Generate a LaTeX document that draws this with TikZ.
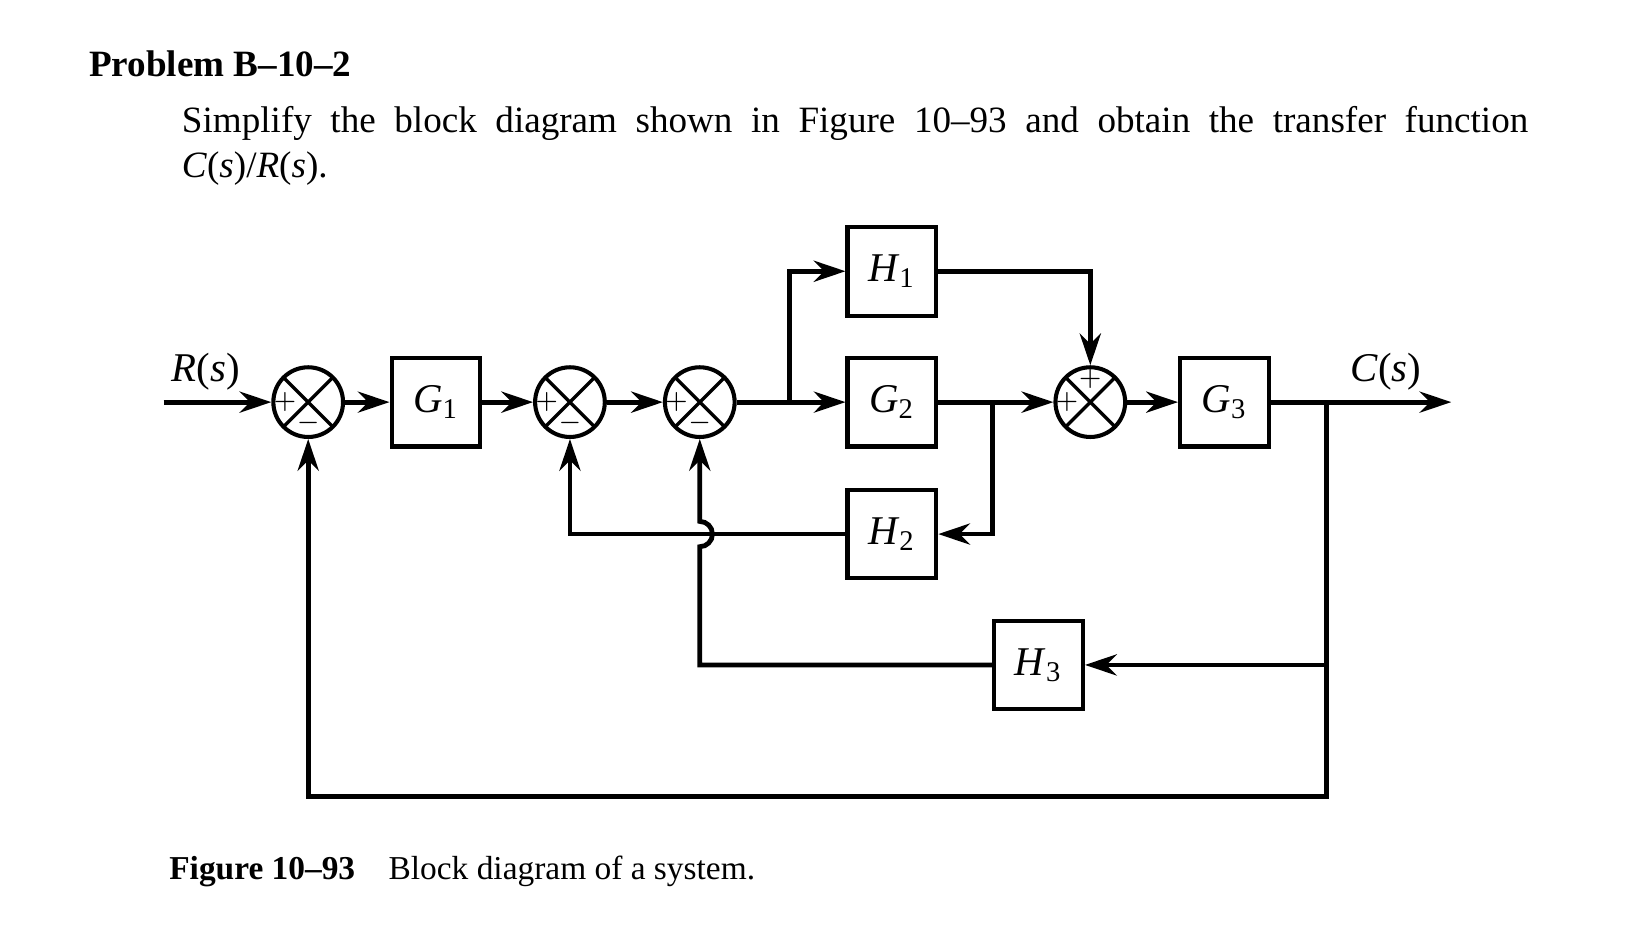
\documentclass[tikz,border=0pt]{standalone}
\usepackage{fontspec}
\setmainfont{Liberation Serif}
\usetikzlibrary{positioning, calc, arrows.meta}
\newcommand{\var}[2]{\textit{#1}\textsubscript{#2}}

\begin{document}
\begin{tikzpicture}[x={(0.01cm,0)}, y={(0,-0.01cm)},
    block/.style={draw, line width=1.1pt, minimum size=0.84cm, inner sep=0pt,
      font=\fontsize{11}{13}\selectfont},
    summer/.style={draw, circle, line width=1.1pt, minimum size=0.66cm, inner sep=0pt,
      path picture={\draw[line width=0.9pt] (path picture bounding box.south west) -- (path picture bounding box.north east)
        (path picture bounding box.north west) -- (path picture bounding box.south east);}},
    sign/.style={font=\fontsize{7}{8}\selectfont, inner sep=0pt},
    wire/.style={line width=1.3pt},
    arr/.style={wire, -{Stealth[length=3mm, width=2mm]}}]
  \useasboundingbox (0,0) rectangle (1550,898);

% TEXT

  \node[anchor=west, font=\fontsize{10}{12}\selectfont\bfseries] (title) at (72,60) {Problem B–10–2};
  \node[anchor=west, font=\fontsize{10}{12}\selectfont] (task1) at (160,117)
    {Simplify\ \ the\ \ block\ \ diagram\ \ shown\ \ in\ \ Figure\ \ 10–93\ \ and\ \ obtain\ \ the\ \ transfer\ \ function};
  \node[anchor=west, font=\fontsize{10}{12}\selectfont] (task2) at (160,160) {\textit{C}(\textit{s})/\textit{R}(\textit{s}).};
  \node[anchor=west, font=\fontsize{9}{11}\selectfont] (caption) at (148,826)
    {\textbf{Figure 10–93}\quad Block diagram of a system.};

% BLOCKS

  \node[summer] (s1) at (292,381) {};
  \node[summer] (s2) at (540,381) {};
  \node[summer] (s3) at (663,381) {};
  \node[summer] (s4) at (1033,381) {};
  \node[block] (g1) at (413,381) {\var{G}{1}};
  \node[block] (g2) at (845,381) {\var{G}{2}};
  \node[block] (h1) at (845,257) {\var{H}{1}};
  \node[block] (h2) at (845,506) {\var{H}{2}};
  \node[block] (h3) at (984,630) {\var{H}{3}};
  \node[block] (g3) at (1160,381) {\var{G}{3}};

  \foreach \s in {s1, s2, s3, s4} {
    \node[sign] at ($(\s)+(-22,0)$) {$+$};
  }
  \foreach \s in {s1, s2, s3} {
    \node[sign] at ($(\s)+(0,20)$) {$-$};
  }
  \node[sign] at ($(s4)+(0,-22)$) {$+$};

  \coordinate (rin) at (155,381);
  \coordinate (cout) at (1375,381);
  \coordinate (split1) at (748,381);
  \coordinate (split2) at (940,381);
  \coordinate (split3) at (1257,381);
  \node[font=\fontsize{11}{13}\selectfont] (rlabel) at (195,352) {\textit{R}(\textit{s})};
  \node[font=\fontsize{11}{13}\selectfont] (clabel) at (1313,352) {\textit{C}(\textit{s})};

% FORWARD PATH

  \draw[arr] (rin) -- (s1);
  \draw[arr] (s1) -- (g1);
  \draw[arr] (g1) -- (s2);
  \draw[arr] (s2) -- (s3);
  \draw[arr] (s3) -- (g2);
  \draw[arr] (g2) -- (s4);
  \draw[arr] (s4) -- (g3);
  \draw[arr] (g3) -- (cout);
  \draw[arr] (split1) |- (h1);
  \draw[arr] (h1) -| (s4);

% FEEDBACK

  \draw[arr] (split2) |- (h2);
  \draw[arr] (h2) -| (s2);
  \draw[arr] (split3) |- (h3);
  \draw[arr] (h3.west) -- (663,630) -- (663,518) arc[start angle=90, end angle=-90, radius=12] -- (s3);
  \draw[arr] (split3) -- (1257,755) -| (s1);

\end{tikzpicture}
\end{document}
